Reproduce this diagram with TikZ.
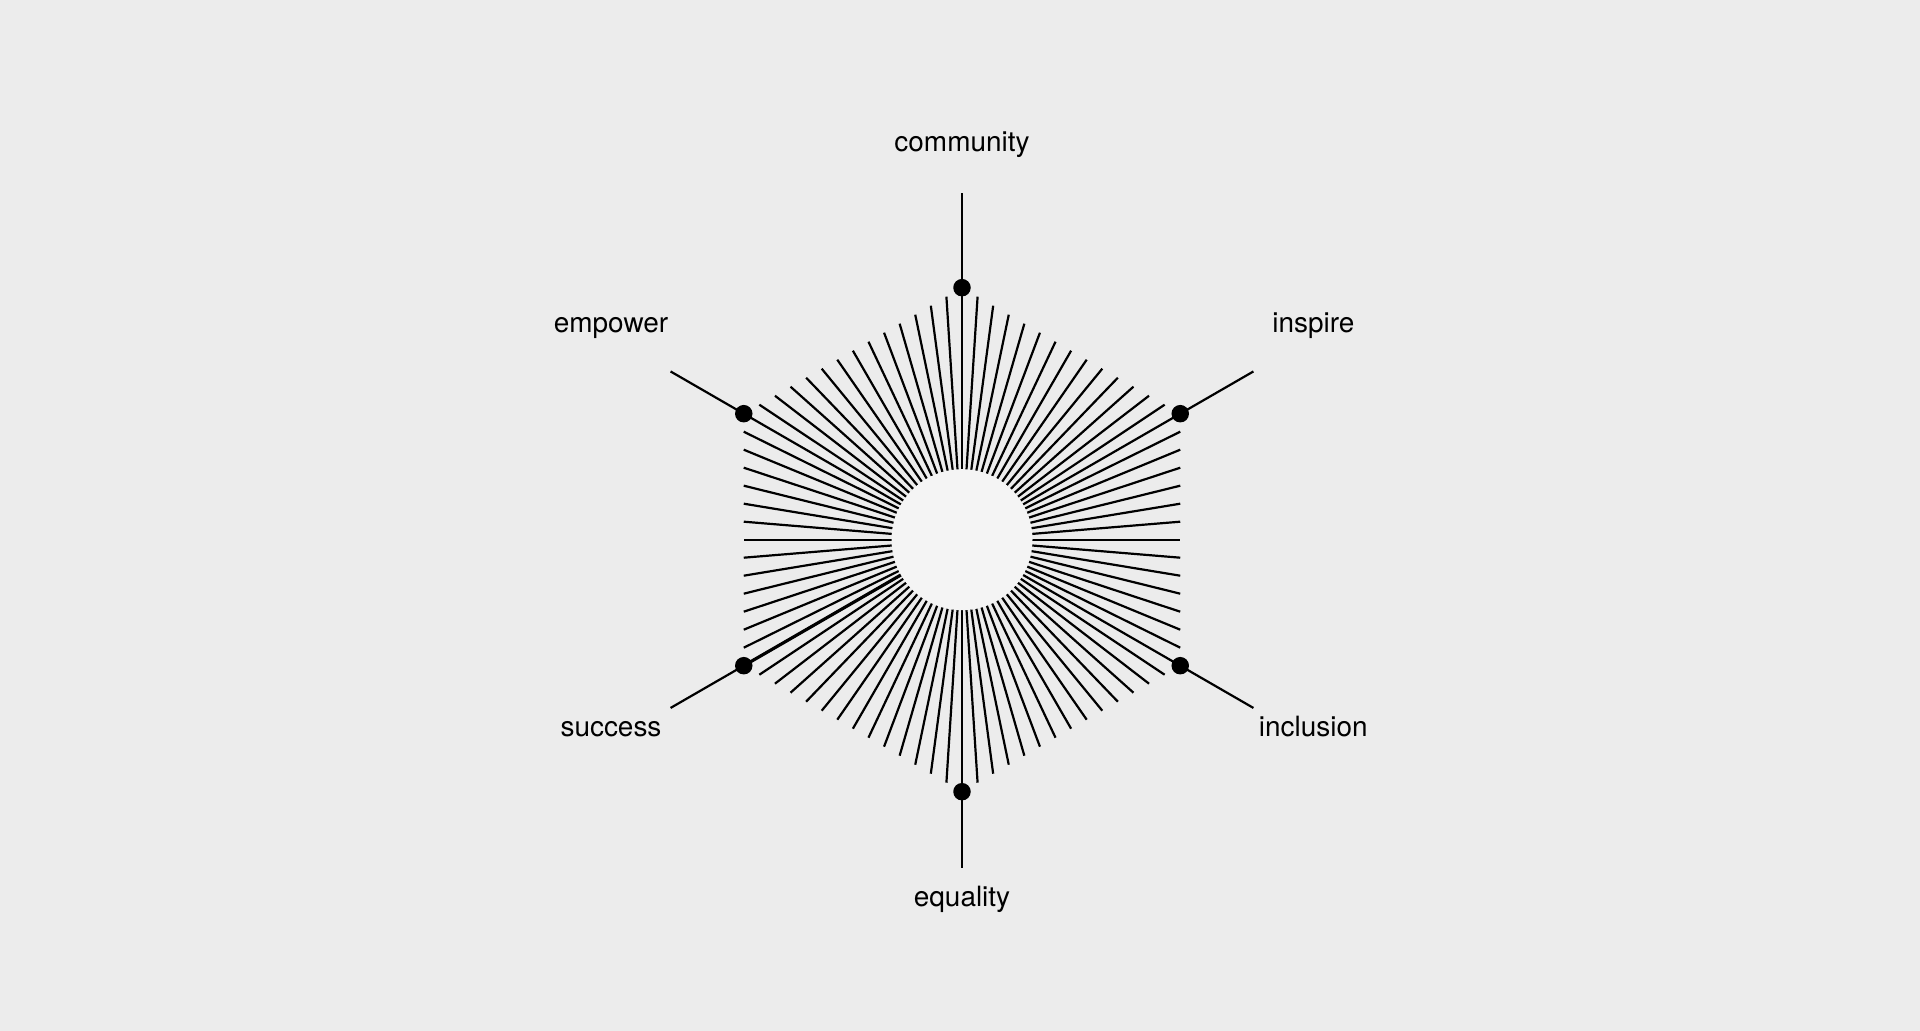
\documentclass[tikz,border=0pt]{standalone}
\usepackage{fontspec}
\setmainfont{TeX Gyre Heros}
\usepackage{tikz}
\usetikzlibrary{calc}

\begin{document}
\begin{tikzpicture}[
spoke/.style    = { draw=black, line width=1.25pt },
stem/.style     = { draw=black, line width=1.25pt },
hub/.style      = { circle, fill=hub_color, inner sep=0pt,
    minimum size=2.82cm },
dot/.style      = { circle, fill=black, inner sep=0pt,
    minimum size=0.35cm },
tag/.style      = { anchor=base, inner sep=0pt,
    font=\fontsize{15.9}{19}\selectfont },
]
\definecolor{bg_color}{RGB}{236,236,236}
\definecolor{hub_color}{RGB}{244,244,244}
% background, fixes the margins
\fill[bg_color] (-19.24,-9.826) rectangle (19.16,10.794);
\coordinate (c) at (0,0);
% corners of the hexagon
\foreach \k in {0,...,5}
    \coordinate (v\k) at (90+60*\k:5.04);
% spokes, 14 on every side
\foreach \k in {0,...,5} {
    \pgfmathtruncatemacro{\n}{mod(\k+1,6)}
    \foreach \j in {0,...,13} {
        \coordinate (p) at ($(v\k)!\j/14!(v\n)$);
        \draw[spoke] (c) -- (p);
    }
}
\draw[spoke, line width=1.8pt] (c) -- (v2);
\node[hub] (hub) at (c) {};

% free ends of the stems
\coordinate (e0) at (90:6.934);
\coordinate (e1) at (150:6.73);
\coordinate (e2) at (210:6.73);
\coordinate (e3) at (270:6.56);
\coordinate (e4) at (330:6.73);
\coordinate (e5) at (30:6.73);
\foreach \k in {0,...,5} {
    \draw[stem] (v\k) -- (e\k);
    \node[dot] (dot\k) at (v\k) {};
}

% labels
\node[tag] (community) at (0,7.76)       {community};
\node[tag] (empower)   at (-7.02,4.134)  {empower};
\node[tag] (inspire)   at (7.026,4.134)  {inspire};
\node[tag] (success)   at (-7.02,-3.94)  {success};
\node[tag] (inclusion) at (7.026,-3.94)  {inclusion};
\node[tag] (equality)  at (0,-7.34)      {equality};
\end{tikzpicture}
\end{document}
